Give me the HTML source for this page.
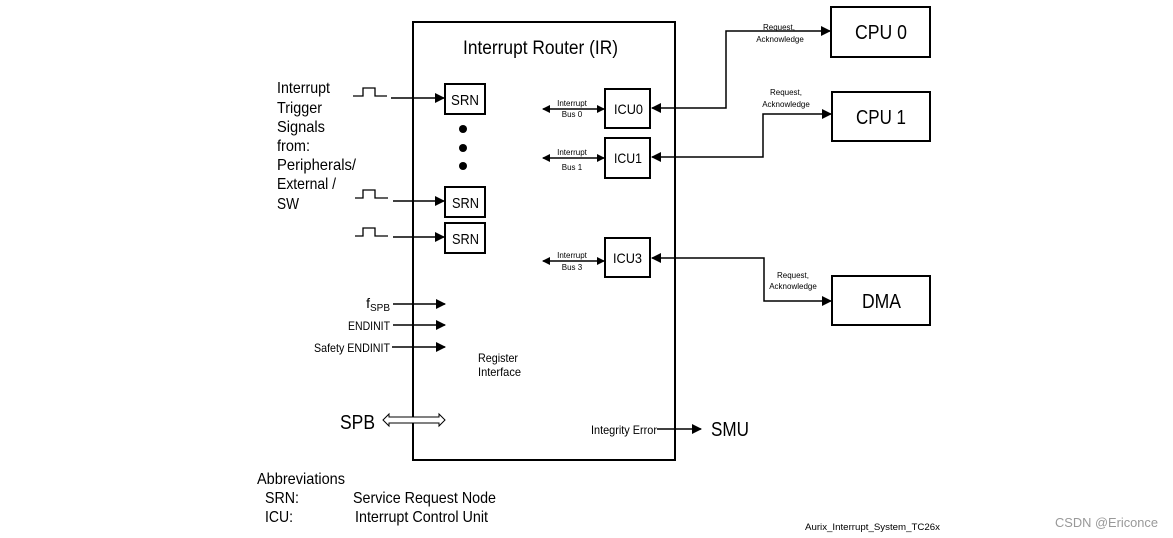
<!DOCTYPE html>
<html><head><meta charset="utf-8"><style>
html,body{margin:0;padding:0;background:#fff;}
svg{display:block;}
text{font-family:"Liberation Sans",Arial,sans-serif;fill:#000;}
</style></head><body>
<svg width="1173" height="538" viewBox="0 0 1173 538" xmlns="http://www.w3.org/2000/svg">
<defs>
<marker id="a" markerWidth="10" markerHeight="10" refX="9" refY="5" orient="auto-start-reverse" markerUnits="userSpaceOnUse"><path d="M0,0 L10,5 L0,10 z" fill="#000"/></marker>
<marker id="as" markerWidth="8" markerHeight="8" refX="7" refY="4" orient="auto-start-reverse" markerUnits="userSpaceOnUse"><path d="M0,0 L8,4 L0,8 z" fill="#000"/></marker>
</defs>
<g stroke="#000" fill="none" stroke-width="2">
<rect x="413" y="22" width="262" height="438"/>
<rect x="445" y="84" width="40" height="30"/>
<rect x="445" y="187" width="40" height="30"/>
<rect x="445" y="223" width="40" height="30"/>
<rect x="605" y="89" width="45" height="39"/>
<rect x="605" y="138" width="45" height="40"/>
<rect x="605" y="238" width="45" height="39"/>
<rect x="831" y="7" width="99" height="50"/>
<rect x="832" y="92" width="98" height="49"/>
<rect x="832" y="276" width="98" height="49"/>
</g>
<g stroke="#000" fill="none" stroke-width="1.3">
<path d="M353,96 H363 V88 H375 V96 H387"/>
<path d="M355,198 H363 V190 H375 V198 H388"/>
<path d="M355,236 H363 V228 H375 V236 H388"/>
</g>
<g stroke="#000" fill="none" stroke-width="1.5">
<line x1="391" y1="98" x2="444" y2="98" marker-end="url(#a)"/>
<line x1="393" y1="201" x2="444" y2="201" marker-end="url(#a)"/>
<line x1="393" y1="237" x2="444" y2="237" marker-end="url(#a)"/>
<line x1="543" y1="109" x2="604" y2="109" marker-start="url(#as)" marker-end="url(#as)"/>
<line x1="543" y1="158" x2="604" y2="158" marker-start="url(#as)" marker-end="url(#as)"/>
<line x1="543" y1="261" x2="604" y2="261" marker-start="url(#as)" marker-end="url(#as)"/>
<path d="M652,108 H726 V31 H830" marker-start="url(#a)" marker-end="url(#a)"/>
<path d="M652,157 H763 V114 H831" marker-start="url(#a)" marker-end="url(#a)"/>
<path d="M652,258 H764 V301 H831" marker-start="url(#a)" marker-end="url(#a)"/>
<line x1="393" y1="304" x2="445" y2="304" marker-end="url(#a)"/>
<line x1="393" y1="325" x2="445" y2="325" marker-end="url(#a)"/>
<line x1="392" y1="347" x2="445" y2="347" marker-end="url(#a)"/>
<line x1="657" y1="429" x2="701" y2="429" marker-end="url(#a)"/>
</g>
<path d="M383,420 L389,414 V417 H439 V414 L445,420 L439,426 V423 H389 V426 Z" fill="#fff" stroke="#000" stroke-width="1"/>
<g fill="#000"><circle cx="463" cy="129" r="4"/><circle cx="463" cy="148" r="4"/><circle cx="463" cy="166" r="4"/></g>
<text x="463" y="54" font-size="19" textLength="155" lengthAdjust="spacingAndGlyphs">Interrupt Router  (IR)</text>
<g font-size="16">
<text x="277" y="93" textLength="53" lengthAdjust="spacingAndGlyphs">Interrupt</text>
<text x="277" y="113" textLength="45" lengthAdjust="spacingAndGlyphs">Trigger</text>
<text x="277" y="132" textLength="48" lengthAdjust="spacingAndGlyphs">Signals</text>
<text x="277" y="151" textLength="33" lengthAdjust="spacingAndGlyphs">from:</text>
<text x="277" y="170" textLength="79" lengthAdjust="spacingAndGlyphs">Peripherals/</text>
<text x="277" y="189" textLength="59" lengthAdjust="spacingAndGlyphs">External /</text>
<text x="277" y="209" textLength="22" lengthAdjust="spacingAndGlyphs">SW</text>
</g>
<g font-size="15">
<text x="451" y="105" textLength="28" lengthAdjust="spacingAndGlyphs">SRN</text>
<text x="452" y="208" textLength="27" lengthAdjust="spacingAndGlyphs">SRN</text>
<text x="452" y="244" textLength="27" lengthAdjust="spacingAndGlyphs">SRN</text>
<text x="614" y="114" font-size="14" textLength="29" lengthAdjust="spacingAndGlyphs">ICU0</text>
<text x="614" y="163" font-size="14" textLength="28" lengthAdjust="spacingAndGlyphs">ICU1</text>
<text x="613" y="263" font-size="14" textLength="29" lengthAdjust="spacingAndGlyphs">ICU3</text>
</g>
<g font-size="8" text-anchor="middle">
<text x="572" y="106">Interrupt</text><text x="572" y="117">Bus 0</text>
<text x="572" y="155">Interrupt</text><text x="572" y="170">Bus 1</text>
<text x="572" y="258">Interrupt</text><text x="572" y="270">Bus 3</text>
<text x="779" y="30">Request,</text><text x="780" y="42">Acknowledge</text>
<text x="786" y="95">Request,</text><text x="786" y="107">Acknowledge</text>
<text x="793" y="278">Request,</text><text x="793" y="289">Acknowledge</text>
</g>
<g font-size="20">
<text x="855" y="39" textLength="52" lengthAdjust="spacingAndGlyphs">CPU 0</text>
<text x="856" y="124" textLength="50" lengthAdjust="spacingAndGlyphs">CPU 1</text>
<text x="862" y="308" textLength="39" lengthAdjust="spacingAndGlyphs">DMA</text>
</g>
<g font-size="12" text-anchor="end">
<text x="390" y="308" font-size="14">f<tspan font-size="10" dy="3">SPB</tspan></text>
<text x="390" y="330" textLength="42" lengthAdjust="spacingAndGlyphs">ENDINIT</text>
<text x="390" y="352" textLength="76" lengthAdjust="spacingAndGlyphs">Safety ENDINIT</text>
</g>
<text x="478" y="362" font-size="12" textLength="40" lengthAdjust="spacingAndGlyphs">Register</text>
<text x="478" y="376" font-size="12" textLength="43" lengthAdjust="spacingAndGlyphs">Interface</text>
<text x="340" y="429" font-size="20" textLength="35" lengthAdjust="spacingAndGlyphs">SPB</text>
<text x="591" y="434" font-size="12" textLength="66" lengthAdjust="spacingAndGlyphs">Integrity Error</text>
<text x="711" y="436" font-size="20" textLength="38" lengthAdjust="spacingAndGlyphs">SMU</text>
<g font-size="16">
<text x="257" y="484" textLength="88" lengthAdjust="spacingAndGlyphs">Abbreviations</text>
<text x="265" y="503" textLength="34" lengthAdjust="spacingAndGlyphs">SRN:</text>
<text x="353" y="503" textLength="143" lengthAdjust="spacingAndGlyphs">Service Request Node</text>
<text x="265" y="522" textLength="28" lengthAdjust="spacingAndGlyphs">ICU:</text>
<text x="355" y="522" textLength="133" lengthAdjust="spacingAndGlyphs">Interrupt Control Unit</text>
</g>
<text x="805" y="530" font-size="9" textLength="135" lengthAdjust="spacingAndGlyphs">Aurix_Interrupt_System_TC26x</text>
<text x="1055" y="527" font-size="13" style="fill:#999" textLength="103" lengthAdjust="spacingAndGlyphs">CSDN @Ericonce</text>
</svg>
</body></html>
